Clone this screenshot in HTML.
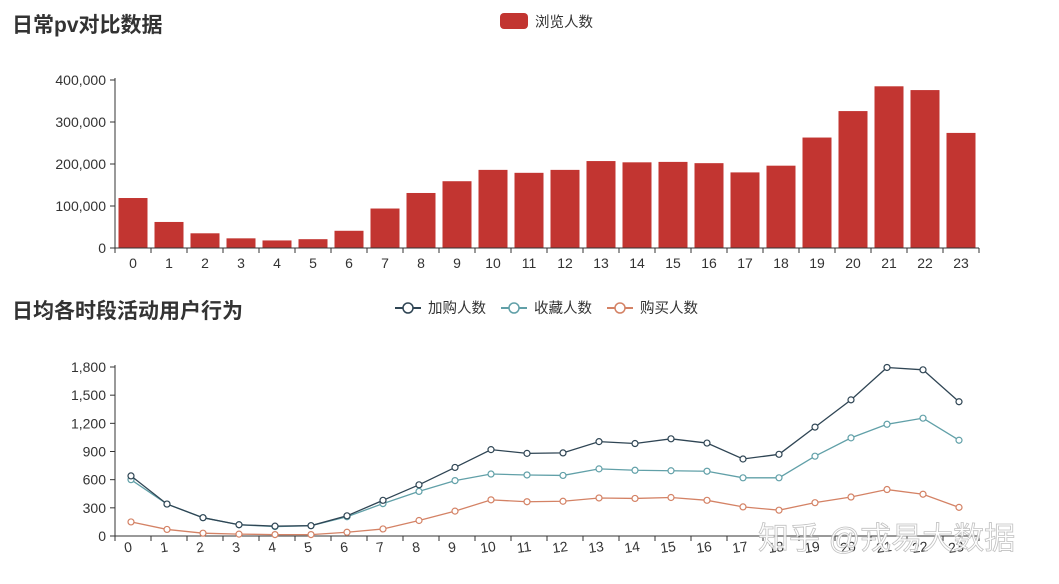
<!DOCTYPE html><html><head><meta charset="utf-8"><style>
body{margin:0;background:#fff;width:1059px;height:579px;overflow:hidden;font-family:"Liberation Sans","Noto Sans CJK SC",sans-serif}
</style></head><body>
<svg id="s" width="1059" height="579" xmlns="http://www.w3.org/2000/svg" font-family="Liberation Sans, Noto Sans CJK SC, sans-serif"></svg>
<script>
const s=document.getElementById('s');let h='';
h+='<text x="12" y="32" font-size="21" font-weight="bold" fill="#333">日常pv对比数据</text>';
h+='<rect x="500" y="13" width="28" height="16" rx="4" fill="#c23531"/><text x="535" y="27" font-size="14.5" fill="#333">浏览人数</text>';
const bars=[119,62,35,23,18,21,41,94,131,159,186,179,186,207,204,205,202,180,196,263,326,385,376,274];
const x0=115,z0=248,sc=0.42,w=36;
for(let i=0;i<=4;i++){let y=z0-i*42;h+=`<line x1="110" x2="115" y1="${y}" y2="${y}" stroke="#333"/><text x="106" y="${y+5}" font-size="14" fill="#333" text-anchor="end">${i?i*100+',000':'0'}</text>`;}
bars.forEach((v,i)=>{h+=`<rect x="${x0+i*w+3.5}" y="${z0-v*sc}" width="29" height="${v*sc}" fill="#c23531"/>`;h+=`<text x="${x0+i*w+18}" y="${z0+20}" font-size="14" fill="#333" text-anchor="middle">${i}</text>`;});
for(let i=0;i<=24;i++)h+=`<line x1="${x0+i*w}" x2="${x0+i*w}" y1="${z0}" y2="${z0+5}" stroke="#333"/>`;
h+=`<line x1="${x0}" x2="${x0}" y1="78" y2="${z0}" stroke="#333"/><line x1="${x0}" x2="${x0+24*w}" y1="${z0}" y2="${z0}" stroke="#333"/>`;
h+='<text x="12" y="318" font-size="21" font-weight="bold" fill="#333">日均各时段活动用户行为</text>';
const leg=[['加购人数','#2f4554',395],['收藏人数','#61a0a8',501],['购买人数','#d48265',607]];
leg.forEach(l=>{h+=`<line x1="${l[2]}" x2="${l[2]+26}" y1="308" y2="308" stroke="${l[1]}" stroke-width="2"/><circle cx="${l[2]+13}" cy="308" r="5" fill="#fff" stroke="${l[1]}" stroke-width="1.5"/><text x="${l[2]+33}" y="313" font-size="14.5" fill="#333">${l[0]}</text>`;});
const z1=536,k=169/1800;
for(let i=0;i<=6;i++){let y=z1-i*300*k;h+=`<line x1="110" x2="115" y1="${y}" y2="${y}" stroke="#333"/><text x="106" y="${y+5}" font-size="14" fill="#333" text-anchor="end">${(i*300).toLocaleString('en-US')}</text>`;}
for(let i=0;i<24;i++)h+=`<text x="${x0+i*w+13}" y="${z1+16}" font-size="14" fill="#333" text-anchor="middle" transform="rotate(-8 ${x0+i*w+13} ${z1+11})">${i}</text>`;
for(let i=0;i<=24;i++)h+=`<line x1="${x0+i*w}" x2="${x0+i*w}" y1="${z1}" y2="${z1+5}" stroke="#333"/>`;
h+=`<line x1="${x0}" x2="${x0}" y1="365" y2="${z1}" stroke="#333"/><line x1="${x0}" x2="${x0+24*w}" y1="${z1}" y2="${z1}" stroke="#333"/>`;
const data=[[[640,340,195,120,105,110,215,380,545,730,920,880,885,1005,985,1035,990,820,870,1160,1450,1795,1770,1430],'#2f4554'],
[[600,340,195,120,100,110,205,345,475,590,660,650,645,715,700,695,690,620,620,850,1045,1190,1255,1020],'#61a0a8'],
[[150,70,30,20,15,15,40,75,165,265,385,365,370,405,400,410,380,310,275,355,415,495,445,305],'#d48265']];
data.reverse().forEach(([d,c])=>{let p=d.map((v,i)=>`${131+i*36},${z1-v*k}`).join(' ');h+=`<polyline points="${p}" fill="none" stroke="${c}" stroke-width="1.3"/>`;d.forEach((v,i)=>h+=`<circle cx="${131+i*36}" cy="${z1-v*k}" r="3" fill="#fff" stroke="${c}" stroke-width="1.2"/>`);});
h+='<text x="758" y="549" font-size="31" fill="#fff" stroke="#bbb" stroke-width="0.8" opacity="0.9">知乎 @戎易大数据</text>';
s.innerHTML=h;
</script></body></html>
